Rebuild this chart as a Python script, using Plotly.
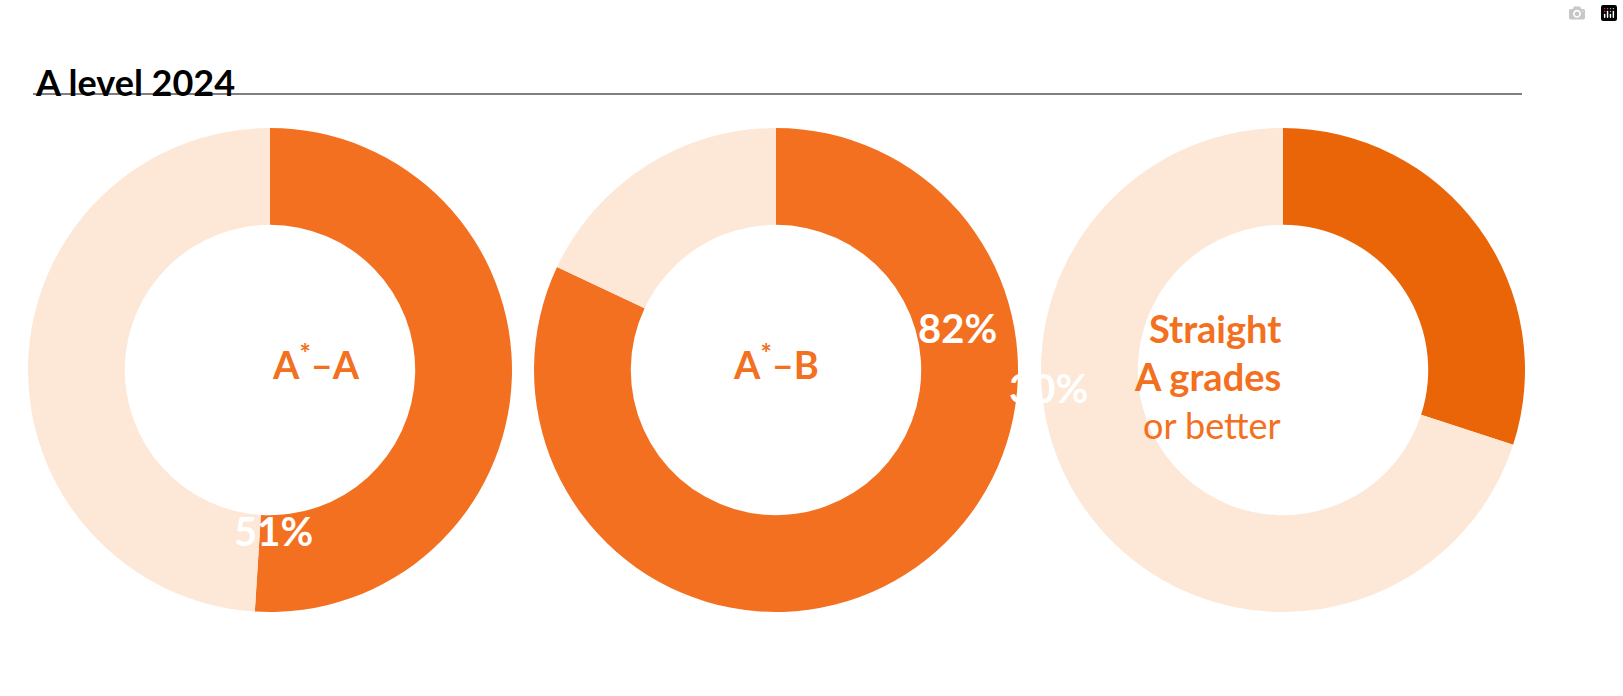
import plotly.graph_objects as go

titles = ["A*–A", "A*–B", "Straight A grades or better"]
shares = [51, 82, 30]
rest = [100 - s for s in shares]
main_colors = ["#F37021", "#F37021", "#EA6508"]
light = "#FDE7D7"

fig = go.Figure()
doms = [(28, 512), (534, 1018), (1041, 1525)]
W, H = 1623, 696
for i, (a, b) in enumerate(doms):
    fig.add_trace(go.Pie(values=[shares[i], rest[i]], sort=False, direction="clockwise",
                         rotation=0, hole=0.6, textinfo="none", hoverinfo="skip",
                         marker=dict(colors=[main_colors[i], light], line=dict(width=0)),
                         domain=dict(x=[a / W, b / W], y=[(H - 612) / H, (H - 128) / H]),
                         showlegend=False))

FONT = "Lato"
def ann(x, y, text, size, color, bold=True):
    fig.add_annotation(x=x / W, y=1 - y / H, xref="paper", yref="paper", showarrow=False,
                       text=f"<b>{text}</b>" if bold else text,
                       font=dict(family=FONT, size=size, color=color))

ann(232, 557, f"{shares[0]}%", 40, "white")
ann(958, 328, f"{shares[1]}%", 40, "white")
ann(1090, 388, f"{shares[2]}%", 40, "white")
ann(270, 362, "A<sup>*</sup>–A", 38, "#F37021")
ann(776, 362, "A<sup>*</sup>–B", 38, "#F37021")
ann(1283, 328, "Straight", 38, "#F37021")
ann(1283, 376, "A grades", 38, "#F37021")
ann(1283, 425, "or better", 36, "#F37021", bold=False)

fig.add_annotation(x=33 / W, y=1 - 58 / H, xref="paper", yref="paper", showarrow=False,
                   xanchor="left", text="<b>A level 2024</b>",
                   font=dict(family=FONT, size=36, color="black"))
fig.add_shape(type="line", xref="paper", yref="paper", x0=33 / W, x1=1522 / W,
              y0=1 - 94 / H, y1=1 - 94 / H, line=dict(color="black", width=1.2))

fig.update_layout(autosize=True, margin=dict(l=0, r=0, t=0, b=0),
                  paper_bgcolor="white", plot_bgcolor="white")
fig.write_html("out.html", default_width="100vw", default_height="100vh",
               post_script="document.body.style.margin='0';document.body.style.overflow='hidden';"
                           "window.dispatchEvent(new Event('resize'));")
